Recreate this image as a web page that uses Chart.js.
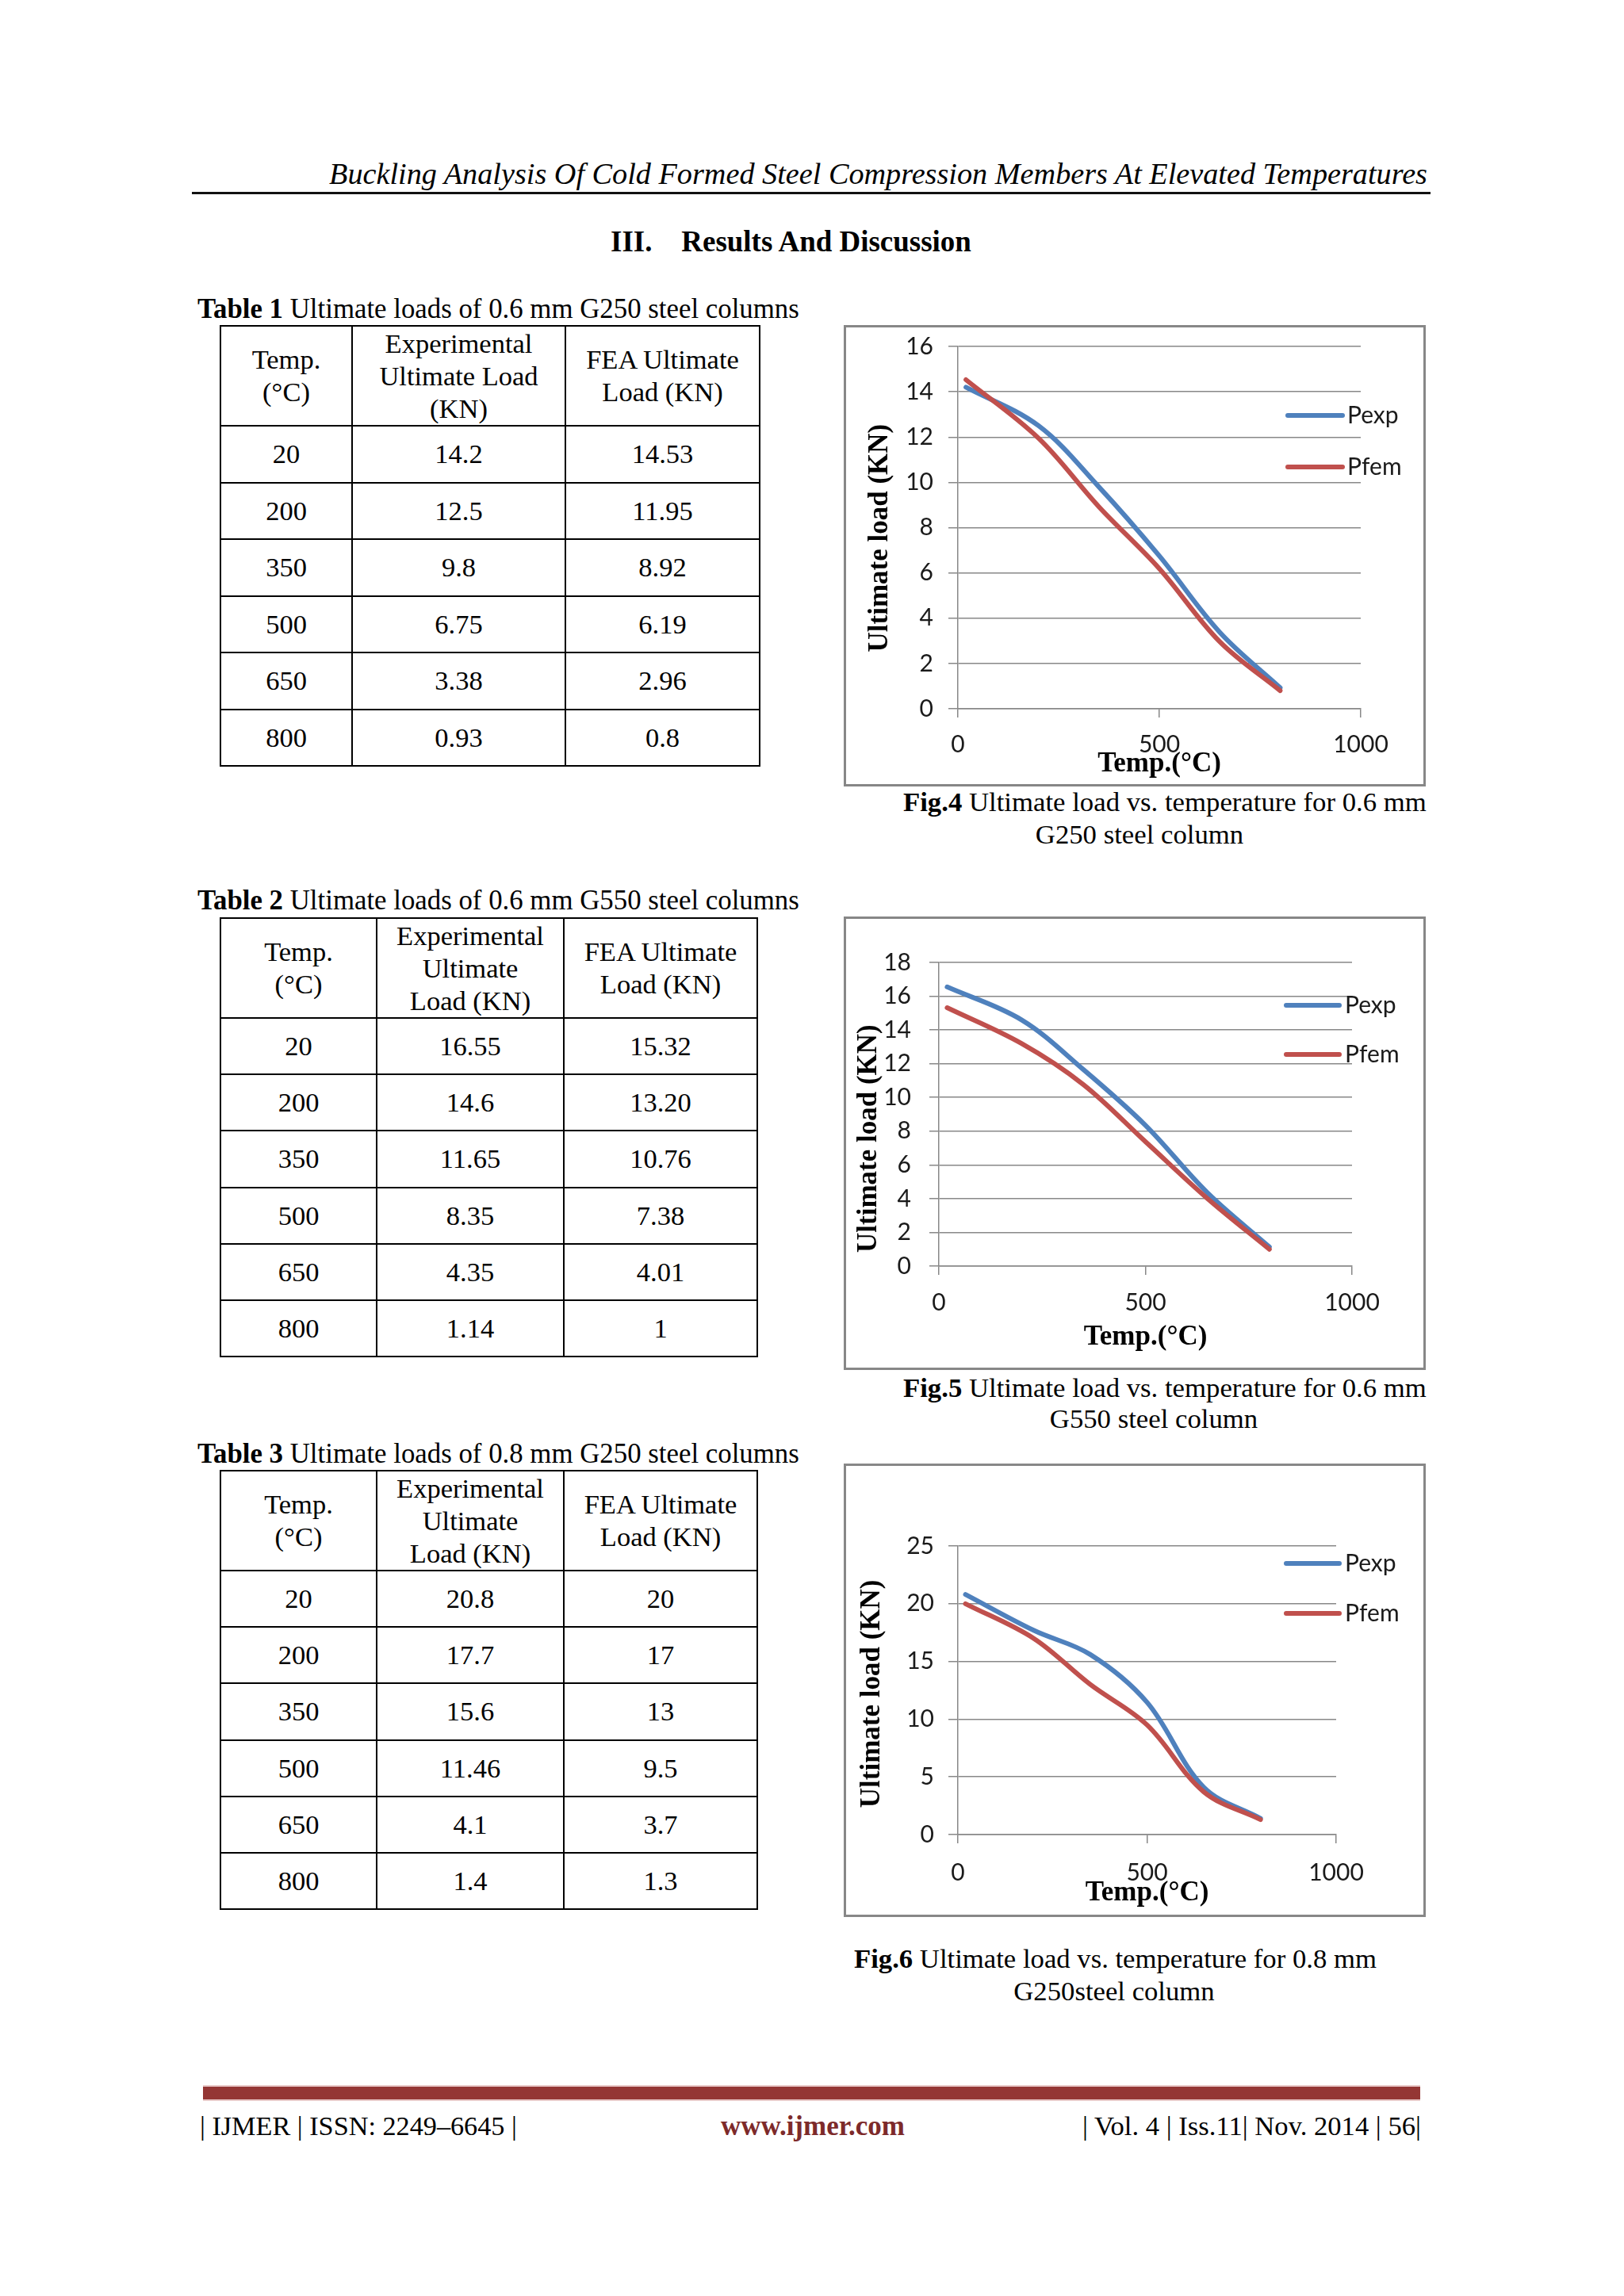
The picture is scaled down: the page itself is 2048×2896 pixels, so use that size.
<!DOCTYPE html>
<html><head><meta charset="utf-8">
<script src="https://cdn.jsdelivr.net/npm/chart.js@4.4.1/dist/chart.umd.min.js"></script>
<style>
html,body{margin:0;padding:0;background:#fff;}
#page{position:relative;width:2048px;height:2896px;overflow:hidden;font-family:"Liberation Serif","Times New Roman",serif;color:#000;}
.t{position:absolute;left:0;top:0;white-space:pre;line-height:1.2;}
table{position:absolute;border-collapse:collapse;table-layout:fixed;font-size:34.5px;font-family:"Liberation Serif",serif;}
td{border:2px solid #000;text-align:center;vertical-align:middle;padding:0;line-height:41px;}
.box{position:absolute;border:3px solid #878787;box-sizing:border-box;background:#fff;}
.box canvas{display:block;}
.rule{position:absolute;}
</style></head>
<body><div id="page"></div>
<script>
// ---------------- data ----------------
const temps = ["20","200","350","500","650","800"];
const t1Exp = ["14.2","12.5","9.8","6.75","3.38","0.93"];
const t1Fea = ["14.53","11.95","8.92","6.19","2.96","0.8"];
const t2Exp = ["16.55","14.6","11.65","8.35","4.35","1.14"];
const t2Fea = ["15.32","13.20","10.76","7.38","4.01","1"];
const t3Exp = ["20.8","17.7","15.6","11.46","4.1","1.4"];
const t3Fea = ["20","17","13","9.5","3.7","1.3"];
const headers1 = ["Temp.<br>(°C)","Experimental<br>Ultimate Load<br>(KN)","FEA Ultimate<br>Load (KN)"];
const headers23 = ["Temp.<br>(°C)","Experimental<br>Ultimate<br>Load (KN)","FEA Ultimate<br>Load (KN)"];
const seriesNames = ["Pexp","Pfem"];
const xTickStep = 500, xMin = 0, xMax = 1000;
const yMax1 = 16, yStep1 = 2;
const yMax2 = 18, yStep2 = 2;
const yMax3 = 25, yStep3 = 5;
const xTitle = "Temp.(°C)";
const yTitle = "Ultimate load (KN)";

const page = document.getElementById('page');

// ---------------- text ----------------
function addText(s){
  const el = document.createElement('div');
  el.className = 't';
  el.innerHTML = s.html;
  el.style.fontSize = '100px';
  if (s.italic) el.style.fontStyle = 'italic';
  if (s.bold) el.style.fontWeight = 'bold';
  if (s.color) el.style.color = s.color;
  page.appendChild(el);
  let fs = s.size || 33;
  if (s.w) { fs = 100 * s.w / el.getBoundingClientRect().width; }
  el.style.fontSize = fs + 'px';
  const w = el.getBoundingClientRect().width;
  const left = s.align === 'right' ? s.x - w : (s.align === 'center' ? s.x - w/2 : s.x);
  el.style.left = left + 'px';
  el.style.top = (s.y - 0.6*fs) + 'px';
  return fs;
}
function addRule(x,y,w,h,color){
  const d = document.createElement('div');
  d.className='rule';
  Object.assign(d.style,{left:x+'px',top:y+'px',width:w+'px',height:h+'px',background:color});
  page.appendChild(d);
  return d;
}

addText({html:"Buckling Analysis Of Cold Formed Steel Compression Members At Elevated Temperatures", italic:true, x:1800, y:220, w:1385, align:'right'});
addRule(242,242,1562,3,'#111');
addText({html:"III.    Results And Discussion", bold:true, x:770, y:305, w:455});

addText({html:"<b>Table 1</b> Ultimate loads of 0.6 mm G250 steel columns", x:249, y:390, w:759});
addText({html:"<b>Table 2</b> Ultimate loads of 0.6 mm G550 steel columns", x:249, y:1136, w:759});
addText({html:"<b>Table 3</b> Ultimate loads of 0.8 mm G250 steel columns", x:249, y:1834, w:759});

let fs4 = addText({html:"<b>Fig.4</b> Ultimate load vs. temperature for 0.6 mm", x:1139, y:1012, w:660});
addText({html:"G250 steel column", x:1437, y:1053, size:fs4, align:'center'});
let fs5 = addText({html:"<b>Fig.5</b> Ultimate load vs. temperature for 0.6 mm", x:1139, y:1751, w:660});
addText({html:"G550 steel column", x:1455, y:1790, size:fs5, align:'center'});
let fs6 = addText({html:"<b>Fig.6</b> Ultimate load vs. temperature for 0.8 mm", x:1077, y:2471, w:659});
addText({html:"G250steel column", x:1405, y:2512, size:fs6, align:'center'});

// footer
const bar = addRule(256,2632,1535,16,'#943634');
bar.style.boxShadow = '0 -2px 0 #e8c9c8, 0 2px 0 #e8c9c8';
addText({html:"| IJMER | ISSN: 2249–6645 |", x:252, y:2682, w:400});
addText({html:"www.ijmer.com", bold:true, color:'#7d2a2a', x:1025, y:2682, w:232, align:'center'});
addText({html:"| Vol. 4 | Iss.11| Nov. 2014 | 56|", x:1792, y:2682, w:427, align:'right'});

// ---------------- tables ----------------
function addTable(x, y, colW, headH, rowH, headers, exp, fea){
  const tb = document.createElement('table');
  tb.style.left = x+'px'; tb.style.top = y+'px';
  tb.style.width = colW.reduce((a,b)=>a+b,0)+'px';
  const cg = document.createElement('colgroup');
  colW.forEach(w=>{const c=document.createElement('col'); c.style.width=w+'px'; cg.appendChild(c);});
  tb.appendChild(cg);
  const hr = document.createElement('tr'); hr.style.height = headH+'px';
  headers.forEach(h=>{const td=document.createElement('td'); td.innerHTML=h; hr.appendChild(td);});
  tb.appendChild(hr);
  temps.forEach((t,i)=>{
    const tr=document.createElement('tr'); tr.style.height=rowH+'px';
    [t, exp[i], fea[i]].forEach(v=>{const td=document.createElement('td'); td.textContent=v; tr.appendChild(td);});
    tb.appendChild(tr);
  });
  page.appendChild(tb);
}
addTable(277, 410, [166,269,245], 126, 71.5, headers1, t1Exp, t1Fea);
addTable(277, 1157, [197,236,244], 126, 71.2, headers23, t2Exp, t2Fea);
addTable(277, 1854, [197,236,244], 126, 71.2, headers23, t3Exp, t3Fea);

// ---------------- charts ----------------
const excelLegend = {
  id:'excelLegend',
  afterDraw(chart, args, o){
    const ctx = chart.ctx;
    chart.data.datasets.forEach((ds,i)=>{
      const y = o.y + i*o.gap;
      ctx.save();
      ctx.strokeStyle = ds.borderColor; ctx.lineWidth = o.lineWidth; ctx.lineCap = 'round';
      ctx.beginPath(); ctx.moveTo(o.x, y); ctx.lineTo(o.x + o.len, y); ctx.stroke();
      ctx.fillStyle = '#1a1a1a'; ctx.font = o.font; ctx.textBaseline = 'middle'; ctx.textAlign = 'left';
      ctx.fillText(ds.label, o.x + o.len + o.textGap, y);
      ctx.restore();
    });
  }
};

const GRID = '#888888';
const TICKFONT = {family:'Lato', size:30};
const TITLEFONT = {family:'Liberation Serif', size:35, weight:'bold'};
function makeChart(g, exp, fea, yMax, yStep){
  const box = document.createElement('div');
  box.className = 'box';
  Object.assign(box.style,{left:g.bx+'px',top:g.by+'px',width:g.bw+'px',height:g.bh+'px'});
  const cv = document.createElement('canvas');
  const cw = g.bw-6, ch = g.bh-6;
  cv.width = cw; cv.height = ch;
  cv.style.width = cw+'px'; cv.style.height = ch+'px';
  box.appendChild(cv);
  page.appendChild(box);
  const ox = g.bx+3, oy = g.by+3;
  const left = g.left-ox, right = g.right-ox, top = g.top-oy, bottom = g.bottom-oy;
  const lh = TITLEFONT.size*1.2;
  new Chart(cv.getContext('2d'), {
    type:'line',
    data:{datasets:[
      {label:seriesNames[0], data: temps.map((t,i)=>({x:Number(t), y:Number(exp[i])})), borderColor:'#4F81BD', borderWidth:6, pointRadius:0, tension:0.35, borderCapStyle:'round', borderJoinStyle:'round', order:1, fill:false},
      {label:seriesNames[1], data: temps.map((t,i)=>({x:Number(t), y:Number(fea[i])})), borderColor:'#C0504D', borderWidth:6, pointRadius:0, tension:0.35, borderCapStyle:'round', borderJoinStyle:'round', order:0, fill:false}
    ]},
    options:{
      responsive:false, animation:false, devicePixelRatio:1,
      layout:{padding:{left:0, right:cw-right, top:top, bottom:0}},
      plugins:{legend:{display:false}, tooltip:{enabled:false},
        excelLegend:{x:g.lgx-ox, y:g.lgy-oy, gap:g.lgGap, len:g.lgLen, textGap:g.lgTextGap, lineWidth:6, font:'30px Lato'}},
      scales:{
        x:{type:'linear', min:xMin, max:xMax,
          ticks:{stepSize:xTickStep, padding:g.xPad, color:'#1a1a1a', font:TICKFONT, maxRotation:0, callback:(v)=>String(v)},
          grid:{drawOnChartArea:false, drawTicks:true, tickLength:11, color:GRID, lineWidth:1.5},
          border:{color:GRID, width:1.5},
          title:{display:true, text:xTitle, color:'#000', font:TITLEFONT, padding:{top:0, bottom:(ch - lh/2 - (g.xTitleY-oy))}},
          afterFit:(s)=>{ s.height = ch - bottom; s.paddingLeft = 0; s.paddingRight = 0; }
        },
        y:{min:0, max:yMax,
          ticks:{stepSize:yStep, padding:g.yPad, color:'#1a1a1a', font:TICKFONT, callback:(v)=>String(v)},
          grid:{color:GRID, lineWidth:1.5, tickLength:12},
          border:{color:GRID, width:1.5},
          title:{display:true, text:yTitle + ' '.repeat(g.yTitleSp), color:'#000', font:TITLEFONT, padding:{top:(g.yTitleX-ox) - lh/2, bottom:0}},
          afterFit:(s)=>{ s.width = left; s.paddingTop = 0; s.paddingBottom = 0; }
        }
      }
    },
    plugins:[excelLegend]
  });
}

makeChart({bx:1064, by:410, bw:734, bh:582, left:1208, right:1716, top:437, bottom:894,
  xPad:16, yPad:19, xTitleY:964, yTitleX:1110, yTitleSp:3, lgx:1624, lgy:524, lgGap:65, lgLen:69, lgTextGap:6},
  t1Exp, t1Fea, yMax1, yStep1);
makeChart({bx:1064, by:1156, bw:734, bh:572, left:1184, right:1705, top:1214, bottom:1597,
  xPad:17, yPad:23, xTitleY:1687, yTitleX:1096, yTitleSp:7, lgx:1622, lgy:1268, lgGap:62, lgLen:67, lgTextGap:7},
  t2Exp, t2Fea, yMax2, yStep2);
makeChart({bx:1064, by:1846, bw:734, bh:572, left:1208, right:1685, top:1950, bottom:2314,
  xPad:19, yPad:18, xTitleY:2388, yTitleX:1100, yTitleSp:1, lgx:1622, lgy:1972, lgGap:63, lgLen:67, lgTextGap:7},
  t3Exp, t3Fea, yMax3, yStep3);
</script>
</body></html>
